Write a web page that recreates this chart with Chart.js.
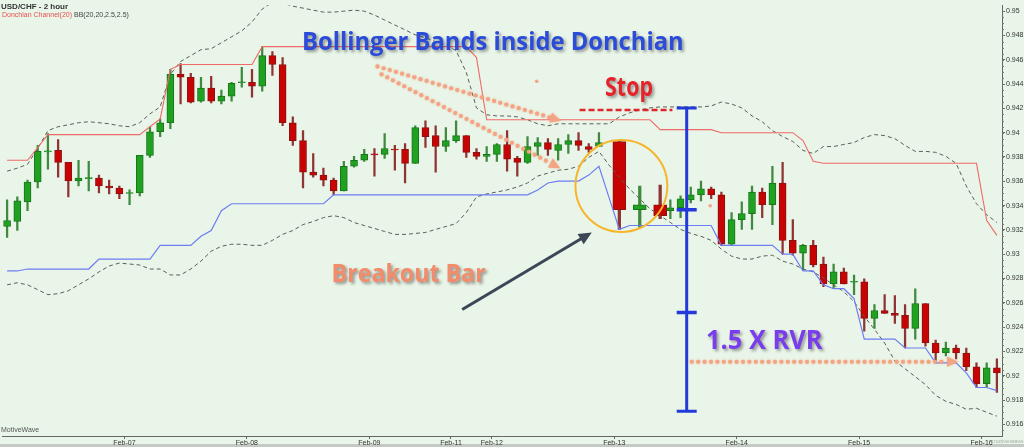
<!DOCTYPE html>
<html>
<head>
<meta charset="utf-8">
<script src="https://cdn.jsdelivr.net/npm/chart.js@4.4.1/dist/chart.umd.min.js"></script>
<style>
    html, body { margin: 0; padding: 0; background: #e9f5e8; }
    #wrap { width: 1024px; height: 447px; }
</style>
</head>
<body>
<div id="wrap"><canvas id="myChart" width="1024" height="447"></canvas></div>
<script>
//! DATA (USD/CHF 2 hour bars)
const opens = [
    0.93228, 0.93269, 0.93431, 0.93594, 0.93842, 0.93854, 0.93756, 0.93602, 0.93622, 0.93626,
    0.93561, 0.93545, 0.93500, 0.93504, 0.93813, 0.94008, 0.94082, 0.94480, 0.94456, 0.94260,
    0.94366, 0.94260, 0.94301, 0.94411, 0.94415, 0.94382, 0.94634, 0.94561, 0.94082, 0.93935,
    0.93675, 0.93651, 0.93610, 0.93521, 0.93724, 0.93773, 0.93825, 0.93821, 0.93866, 0.93862,
    0.93748, 0.94041, 0.93976, 0.93886, 0.93935, 0.93976, 0.93838, 0.93805, 0.93821, 0.93903,
    0.93789, 0.93756, 0.93886, 0.93919, 0.93854, 0.93903, 0.93935, 0.93886, 0.93886, null,
    0.93927, null, 0.93366, null, 0.93407, 0.93358, 0.93382, 0.93447, 0.93488, 0.93537,
    0.93488, 0.93082, 0.93285, 0.93334, 0.93512, 0.93407, 0.93586, 0.93114, 0.93008, 0.93073,
    0.92919, 0.92756, 0.92854, 0.92769, 0.92773, 0.92472, 0.92537, 0.92513, 0.92496, 0.92390,
    0.92594, 0.92269, 0.92187, 0.92228, 0.92187, 0.92073, 0.91935, 0.92065
];
const highs = [
    0.93447, 0.93472, 0.93610, 0.93895, 0.93992, 0.93943, 0.93756, 0.93773, 0.93764, 0.93651,
    0.93610, 0.93561, 0.93529, 0.93813, 0.94049, 0.94114, 0.94521, 0.94569, 0.94488, 0.94456,
    0.94464, 0.94350, 0.94415, 0.94537, 0.94521, 0.94708, 0.94667, 0.94618, 0.94130, 0.94017,
    0.93829, 0.93708, 0.93626, 0.93764, 0.93805, 0.93862, 0.93870, 0.93992, 0.93895, 0.93911,
    0.94057, 0.94098, 0.94057, 0.94041, 0.94098, 0.93976, 0.93870, 0.93886, 0.93911, 0.94017,
    0.93805, 0.93968, 0.93960, 0.93951, 0.93951, 0.93984, 0.94000, 0.93911, 0.94000, null,
    0.93927, null, 0.93561, null, 0.93569, 0.93447, 0.93480, 0.93553, 0.93602, 0.93553,
    0.93512, 0.93342, 0.93431, 0.93561, 0.93545, 0.93724, 0.93756, 0.93285, 0.93082, 0.93114,
    0.92976, 0.92919, 0.92886, 0.92829, 0.92797, 0.92585, 0.92667, 0.92659, 0.92585, 0.92716,
    0.92594, 0.92293, 0.92277, 0.92252, 0.92228, 0.92106, 0.92106, 0.92138
];
const lows = [
    0.93139, 0.93195, 0.93358, 0.93545, 0.93699, 0.93634, 0.93472, 0.93561, 0.93521, 0.93504,
    0.93496, 0.93456, 0.93407, 0.93480, 0.93797, 0.93968, 0.94033, 0.94236, 0.94244, 0.94252,
    0.94244, 0.94236, 0.94260, 0.94374, 0.94293, 0.94342, 0.94472, 0.94057, 0.93895, 0.93545,
    0.93634, 0.93561, 0.93488, 0.93521, 0.93716, 0.93764, 0.93643, 0.93789, 0.93691, 0.93586,
    0.93748, 0.93878, 0.93675, 0.93846, 0.93919, 0.93797, 0.93781, 0.93764, 0.93764, 0.93683,
    0.93643, 0.93748, 0.93813, 0.93813, 0.93773, 0.93829, 0.93854, 0.93838, 0.93886, null,
    0.93204, null, 0.93220, null, 0.93293, 0.93293, 0.93301, 0.93423, 0.93439, 0.93456,
    0.93073, 0.93073, 0.93204, 0.93204, 0.93301, 0.93244, 0.93000, 0.92992, 0.92870, 0.92895,
    0.92732, 0.92716, 0.92756, 0.92667, 0.92366, 0.92390, 0.92513, 0.92431, 0.92228, 0.92301,
    0.92244, 0.92106, 0.92163, 0.92138, 0.92041, 0.91903, 0.91903, 0.91862
];
const closes = [
    0.93277, 0.93439, 0.93594, 0.93846, 0.93850, 0.93756, 0.93602, 0.93626, 0.93630, 0.93561,
    0.93545, 0.93496, 0.93508, 0.93813, 0.94008, 0.94082, 0.94480, 0.94456, 0.94252, 0.94366,
    0.94260, 0.94301, 0.94407, 0.94419, 0.94382, 0.94634, 0.94561, 0.94082, 0.93935, 0.93675,
    0.93651, 0.93610, 0.93521, 0.93724, 0.93773, 0.93821, 0.93817, 0.93870, 0.93858, 0.93748,
    0.94041, 0.93968, 0.93886, 0.93935, 0.93976, 0.93838, 0.93805, 0.93821, 0.93903, 0.93781,
    0.93756, 0.93886, 0.93919, 0.93862, 0.93903, 0.93935, 0.93895, 0.93862, 0.93919, null,
    0.93366, null, 0.93407, null, 0.93317, 0.93382, 0.93456, 0.93488, 0.93537, 0.93488,
    0.93082, 0.93285, 0.93334, 0.93512, 0.93407, 0.93586, 0.93114, 0.93008, 0.93073, 0.92911,
    0.92756, 0.92854, 0.92756, 0.92777, 0.92472, 0.92537, 0.92513, 0.92496, 0.92390, 0.92594,
    0.92269, 0.92187, 0.92228, 0.92187, 0.92073, 0.91935, 0.92065, 0.92024
];
//* bars drawn wide inside the circle
const wideBars = [60, 62, 64];

const donchianUpper = [
    0.93773, 0.93773, 0.93773, 0.93878, 0.93984, 0.93984, 0.93984, 0.93984, 0.93984, 0.93984,
    0.93984, 0.93984, 0.93984, 0.93984, 0.94049, 0.94114, 0.94521, 0.94561, 0.94561, 0.94561,
    0.94561, 0.94561, 0.94561, 0.94561, 0.94561, 0.94708, 0.94708, 0.94708, 0.94708, 0.94708,
    0.94708, 0.94708, 0.94708, 0.94708, 0.94708, 0.94708, 0.94708, 0.94708, 0.94708, 0.94708,
    0.94708, 0.94708, 0.94708, 0.94708, 0.94708, 0.94708, 0.94618, 0.94106, 0.94106, 0.94106,
    0.94106, 0.94106, 0.94106, 0.94106, 0.94106, 0.94106, 0.94106, 0.94106, 0.94106, 0.94106,
    0.94106, 0.94106, 0.94106, 0.94106, 0.94025, 0.94025, 0.94025, 0.94025, 0.94025, 0.94025,
    0.94000, 0.94000, 0.94000, 0.94000, 0.94000, 0.94000, 0.94000, 0.94000, 0.93935, 0.93764,
    0.93748, 0.93748, 0.93748, 0.93748, 0.93748, 0.93748, 0.93748, 0.93748, 0.93748, 0.93748,
    0.93748, 0.93748, 0.93748, 0.93748, 0.93748, 0.93748, 0.93277, 0.93155
];
const donchianLower = [
    0.92862, 0.92862, 0.92878, 0.92878, 0.92878, 0.92878, 0.92878, 0.92878, 0.92878, 0.92960,
    0.92960, 0.92960, 0.92960, 0.92960, 0.92960, 0.93073, 0.93073, 0.93073, 0.93073, 0.93147,
    0.93195, 0.93358, 0.93415, 0.93415, 0.93415, 0.93415, 0.93415, 0.93415, 0.93415, 0.93415,
    0.93415, 0.93415, 0.93488, 0.93488, 0.93488, 0.93488, 0.93488, 0.93488, 0.93488, 0.93488,
    0.93488, 0.93488, 0.93488, 0.93488, 0.93488, 0.93488, 0.93488, 0.93488, 0.93488, 0.93488,
    0.93488, 0.93488, 0.93529, 0.93586, 0.93602, 0.93602, 0.93602, 0.93651, 0.93724, 0.93464,
    0.93204, 0.93236, 0.93236, 0.93236, 0.93236, 0.93236, 0.93236, 0.93236, 0.93236, 0.93236,
    0.93073, 0.93073, 0.93073, 0.93073, 0.93073, 0.93073, 0.93000, 0.93000, 0.92862, 0.92862,
    0.92748, 0.92716, 0.92716, 0.92634, 0.92301, 0.92301, 0.92301, 0.92301, 0.92228, 0.92228,
    0.92228, 0.92106, 0.92106, 0.92106, 0.92024, 0.91903, 0.91903, 0.91878
];
const bbUpper = [
    0.93683, 0.93708, 0.93740, 0.93870, 0.94017, 0.94049, 0.94065, 0.94082, 0.94090, 0.94082,
    0.94073, 0.94057, 0.94049, 0.94082, 0.94155, 0.94212, 0.94480, 0.94586, 0.94634, 0.94683,
    0.94691, 0.94740, 0.94789, 0.94838, 0.94911, 0.95017, 0.95073, 0.95065, 0.95041, 0.95025,
    0.95008, 0.94992, 0.94992, 0.95000, 0.95008, 0.95000, 0.94968, 0.94927, 0.94886, 0.94846,
    0.94805, 0.94781, 0.94748, 0.94724, 0.94675, 0.94496, 0.94204, 0.94147, 0.94138, 0.94138,
    0.94130, 0.94106, 0.94073, 0.94057, 0.94073, 0.94073, 0.94073, 0.94073, 0.94073, 0.94073,
    0.94130, 0.94163, 0.94187, 0.94204, 0.94212, 0.94212, 0.94212, 0.94212, 0.94212, 0.94220,
    0.94252, 0.94236, 0.94204, 0.94138, 0.94090, 0.94017, 0.93968, 0.93927, 0.93854, 0.93829,
    0.93886, 0.93886, 0.93903, 0.93919, 0.93960, 0.93984, 0.93976, 0.93951, 0.93895, 0.93846,
    0.93846, 0.93838, 0.93805, 0.93748, 0.93561, 0.93415, 0.93325, 0.93261
];
const bbLower = [
    0.92748, 0.92765, 0.92748, 0.92708, 0.92667, 0.92675, 0.92699, 0.92748, 0.92797, 0.92854,
    0.92903, 0.92927, 0.92919, 0.92911, 0.92878, 0.92878, 0.92829, 0.92829, 0.92878, 0.92943,
    0.93025, 0.93065, 0.93082, 0.93082, 0.93073, 0.93073, 0.93114, 0.93163, 0.93195, 0.93244,
    0.93269, 0.93301, 0.93317, 0.93301, 0.93261, 0.93236, 0.93212, 0.93187, 0.93163, 0.93163,
    0.93171, 0.93179, 0.93204, 0.93228, 0.93252, 0.93342, 0.93472, 0.93496, 0.93512, 0.93529,
    0.93553, 0.93586, 0.93643, 0.93667, 0.93691, 0.93699, 0.93724, 0.93797, 0.93846, 0.93732,
    0.93634, 0.93537, 0.93456, 0.93374, 0.93317, 0.93261, 0.93204, 0.93171, 0.93147, 0.93114,
    0.93041, 0.92984, 0.92960, 0.92960, 0.92984, 0.92992, 0.92943, 0.92919, 0.92878, 0.92854,
    0.92805, 0.92748, 0.92691, 0.92610, 0.92488, 0.92382, 0.92269, 0.92122, 0.92057, 0.91992,
    0.91927, 0.91838, 0.91789, 0.91764, 0.91724, 0.91732, 0.91699, 0.91667
];

//* axis ticks
const dayTickPos = [11.5, 23.5, 35.5, 43.5, 47.5, 59.5, 71.5, 83.5, 95.5];
const dayTickLabels = ['Feb-07', 'Feb-08', 'Feb-09', 'Feb-11', 'Feb-12', 'Feb-13', 'Feb-14', 'Feb-15', 'Feb-16'];
const priceTicks = [0.916, 0.918, 0.92, 0.922, 0.924, 0.926, 0.928, 0.93, 0.932, 0.934,
    0.936, 0.938, 0.94, 0.942, 0.944, 0.946, 0.948, 0.95];
const minorStep = 0.0005;
const priceMin = 0.91504;
const priceMax = 0.95049;

//! BUILD CANDLE DATASETS
const barLabels = opens.map((o, i) => 'bar ' + i);
const isUp = opens.map((o, i) => closes[i] >= o);
const normal = i => opens[i] !== null && !wideBars.includes(i);
const wide = i => wideBars.includes(i);

const GREEN = '#21a121', GREEN_EDGE = '#17761a', GREEN_WICK = '#3f8a3f';
const RED = '#c70303', RED_EDGE = '#8e1111', RED_WICK = '#8e3434';

function bodyData(test) {
    return opens.map((o, i) => test(i) ? [o, closes[i]] : null);
}
function wickData(test) {
    return opens.map((o, i) => test(i) ? [lows[i], highs[i]] : null);
}
const fill = isUp.map(u => u ? GREEN : RED);
const edge = isUp.map(u => u ? GREEN_EDGE : RED_EDGE);
const wickCol = isUp.map(u => u ? GREEN_WICK : RED_WICK);

const data = {
    labels: barLabels,
    datasets: [
        { type: 'line', label: 'Donchian upper', data: donchianUpper, borderColor: '#f06a68', borderWidth: 1.1, pointRadius: 0, order: 0 },
        { type: 'line', label: 'Donchian lower', data: donchianLower, borderColor: '#6c7df4', borderWidth: 1.2, pointRadius: 0, order: 0 },
        { type: 'line', label: 'BB upper', data: bbUpper, borderColor: '#5a5f5a', borderWidth: 1, borderDash: [4, 3], pointRadius: 0, order: 0 },
        { type: 'line', label: 'BB lower', data: bbLower, borderColor: '#5a5f5a', borderWidth: 1, borderDash: [4, 3], pointRadius: 0, order: 0 },
        { type: 'bar', label: 'body', data: bodyData(normal), backgroundColor: fill, borderColor: edge, borderWidth: 1, borderSkipped: false, barThickness: 7, grouped: false, order: 1 },
        { type: 'bar', label: 'wide body', data: bodyData(wide), backgroundColor: fill, borderColor: edge, borderWidth: 1, borderSkipped: false, barThickness: 13, grouped: false, order: 1 },
        { type: 'bar', label: 'wick', data: wickData(normal), backgroundColor: wickCol, barThickness: 1.6, grouped: false, order: 2 },
        { type: 'bar', label: 'wide wick', data: wickData(wide), backgroundColor: wickCol, barThickness: 2.6, grouped: false, order: 2 }
    ]
};

//! ANNOTATIONS (bar index / price)
const notes = {
    headline: { text: 'Bollinger Bands inside Donchian', k1: 28.9, k2: 66.3, p: 0.94683, size: 25, color: '#2b4bd9' },
    stop: { text: 'Stop', k1: 58.6, k2: 63.3, p: 0.94304, size: 26, color: '#e5232b' },
    breakout: { text: 'Breakout Bar', k1: 31.8, k2: 46.9, p: 0.92773, size: 25, color: '#f28c6a' },
    rvr: { text: '1.5 X RVR', k1: 68.5, k2: 79.9, p: 0.92220, size: 26, color: '#7a3ded' }
};
const stopLine = { k1: 56.1, k2: 65.2, p: 0.94187 };
const ruler = { k: 66.6, top: 0.94204, bottom: 0.91708, marks: [0.93366, 0.92521] };
const circle = { k: 60.2, p: 0.93561, rk: 4.5 };
const darkArrow = { k1: 44.6, p1: 0.92545, k2: 57.3, p2: 0.93179 };
const dotArrows = [
    { k1: 36.3, p1: 0.94545, k2: 54.3, p2: 0.94098 },
    { k1: 36.7, p1: 0.94480, k2: 54.2, p2: 0.93708 },
    { k1: 67.1, p1: 0.92114, k2: 93.2, p2: 0.92114 }
];
const strayDots = [{ k: 51.9, p: 0.94423 }, { k: 68.9, p: 0.93399 }];

function fitText(ctx, text, x1, x2, y, size, color) {
    ctx.save();
    ctx.font = 'bold ' + size + 'px "Open Sans", "DejaVu Sans", sans-serif';
    const w = ctx.measureText(text).width;
    ctx.translate(x1, y);
    ctx.scale((x2 - x1) / w, 1);
    ctx.shadowColor = 'rgba(40,40,40,0.45)';
    ctx.shadowBlur = 3;
    ctx.shadowOffsetX = 2;
    ctx.shadowOffsetY = 2;
    ctx.fillStyle = color;
    ctx.textBaseline = 'alphabetic';
    ctx.fillText(text, 0, 0);
    ctx.restore();
}

function dottedArrow(ctx, x1, y1, x2, y2) {
    const len = Math.hypot(x2 - x1, y2 - y1);
    const ux = (x2 - x1) / len, uy = (y2 - y1) / len;
    const head = 11;
    ctx.save();
    ctx.fillStyle = '#f4a383';
    ctx.shadowColor = 'rgba(240,130,90,0.6)';
    ctx.shadowBlur = 2;
    for (let d = 0; d <= len - head; d += 6.4) {
        ctx.beginPath();
        ctx.arc(x1 + ux * d, y1 + uy * d, 2.1, 0, Math.PI * 2);
        ctx.fill();
    }
    ctx.beginPath();
    ctx.moveTo(x2, y2);
    ctx.lineTo(x2 - ux * head - uy * 5, y2 - uy * head + ux * 5);
    ctx.lineTo(x2 - ux * head + uy * 5, y2 - uy * head - ux * 5);
    ctx.closePath();
    ctx.fill();
    ctx.restore();
}

const decorations = {
    id: 'decorations',
    beforeDraw(chart) {
        const ctx = chart.ctx;
        ctx.save();
        ctx.fillStyle = '#e9f5e8';
        ctx.fillRect(0, 0, chart.width, chart.height);
        ctx.fillStyle = '#c4c9c4';
        ctx.fillRect(0, chart.height - 3, chart.width, 3);
        ctx.restore();
    },
    afterDraw(chart) {
        const ctx = chart.ctx;
        const xs = chart.scales.xt, ys = chart.scales.y;
        const X = k => xs.getPixelForValue(k);
        const Y = p => ys.getPixelForValue(p);
        const area = chart.chartArea;

        //* minor ticks on the price axis
        ctx.save();
        ctx.strokeStyle = '#777';
        ctx.lineWidth = 1;
        ctx.beginPath();
        for (let p = priceTicks[0] - 0.002; p < priceMax; p += minorStep) {
            const y = Math.round(Y(p)) + 0.5;
            if (y < area.top || y > area.bottom) continue;
            ctx.moveTo(area.right, y);
            ctx.lineTo(area.right + 2, y);
        }
        ctx.stroke();
        ctx.restore();

        //* header texts
        ctx.save();
        ctx.textBaseline = 'alphabetic';
        ctx.fillStyle = '#333';
        ctx.font = 'bold 8px "Liberation Sans", Arial, sans-serif';
        ctx.fillText('USD/CHF - 2 hour', 1, 9);
        ctx.font = '7px "Liberation Sans", Arial, sans-serif';
        ctx.fillStyle = '#e8504c';
        ctx.fillText('Donchian Channel(20)', 2, 17);
        const w = ctx.measureText('Donchian Channel(20) ').width;
        ctx.fillStyle = '#444';
        ctx.fillText('BB(20,20,2.5,2.5)', 2 + w, 17);
        ctx.fillStyle = '#555';
        ctx.fillText('MotiveWave', 1, 432);
        ctx.fillStyle = '#a9aea9';
        ctx.font = '6px "Liberation Sans", Arial, sans-serif';
        ctx.fillText('motivewave.com', area.right - 10, 443);
        ctx.restore();

        //* dotted salmon arrows
        dotArrows.forEach(a => dottedArrow(ctx, X(a.k1), Y(a.p1), X(a.k2), Y(a.p2)));
        ctx.save();
        ctx.fillStyle = '#f4a383';
        strayDots.forEach(d => { ctx.beginPath(); ctx.arc(X(d.k), Y(d.p), 1.8, 0, Math.PI * 2); ctx.fill(); });
        ctx.restore();

        //* stop dashed line
        ctx.save();
        ctx.strokeStyle = '#e0262c';
        ctx.lineWidth = 2.5;
        ctx.setLineDash([6, 3]);
        ctx.beginPath();
        ctx.moveTo(X(stopLine.k1), Y(stopLine.p));
        ctx.lineTo(X(stopLine.k2), Y(stopLine.p));
        ctx.stroke();
        ctx.restore();

        //* breakout circle
        ctx.save();
        ctx.strokeStyle = '#f7b52c';
        ctx.lineWidth = 2;
        ctx.beginPath();
        ctx.arc(X(circle.k), Y(circle.p), X(circle.k + circle.rk) - X(circle.k), 0, Math.PI * 2);
        ctx.stroke();
        ctx.restore();

        //* dark arrow
        ctx.save();
        const ax1 = X(darkArrow.k1), ay1 = Y(darkArrow.p1), ax2 = X(darkArrow.k2), ay2 = Y(darkArrow.p2);
        const al = Math.hypot(ax2 - ax1, ay2 - ay1), ux = (ax2 - ax1) / al, uy = (ay2 - ay1) / al;
        ctx.strokeStyle = '#3b4756';
        ctx.fillStyle = '#3b4756';
        ctx.lineWidth = 3;
        ctx.beginPath();
        ctx.moveTo(ax1, ay1);
        ctx.lineTo(ax2 - ux * 10, ay2 - uy * 10);
        ctx.stroke();
        ctx.beginPath();
        ctx.moveTo(ax2, ay2);
        ctx.lineTo(ax2 - ux * 13 - uy * 6, ay2 - uy * 13 + ux * 6);
        ctx.lineTo(ax2 - ux * 13 + uy * 6, ay2 - uy * 13 - ux * 6);
        ctx.closePath();
        ctx.fill();
        ctx.restore();

        //* blue ruler
        ctx.save();
        ctx.strokeStyle = '#2339d9';
        ctx.lineWidth = 3;
        const rx = X(ruler.k);
        ctx.beginPath();
        ctx.moveTo(rx, Y(ruler.top));
        ctx.lineTo(rx, Y(ruler.bottom));
        [ruler.top, ruler.bottom].forEach(p => { ctx.moveTo(rx - 10, Y(p)); ctx.lineTo(rx + 10, Y(p)); });
        ctx.stroke();
        ctx.lineWidth = 3.5;
        ctx.beginPath();
        ruler.marks.forEach(p => { ctx.moveTo(rx - 10, Y(p)); ctx.lineTo(rx + 10, Y(p)); });
        ctx.stroke();
        ctx.restore();

        //* big texts
        Object.values(notes).forEach(n => fitText(ctx, n.text, X(n.k1), X(n.k2), Y(n.p), n.size, n.color));
    }
};

//! CONFIG
const tickFont = { family: '"Liberation Sans", Arial, sans-serif', size: 7 };
const config = {
    data,
    options: {
        responsive: false,
        animation: false,
        devicePixelRatio: 1,
        layout: { padding: { left: 2, top: 0, right: 0, bottom: 0 } },
        plugins: { legend: { display: false }, tooltip: { enabled: false } },
        scales: {
            x: { type: 'category', display: false, offset: true },
            xt: {
                type: 'linear', position: 'bottom', min: -0.5, max: 97.5,
                afterBuildTicks: s => { s.ticks = dayTickPos.map(v => ({ value: v })); },
                afterFit: s => { s.height = 11; },
                ticks: {
                    callback: v => dayTickLabels[dayTickPos.indexOf(v)],
                    font: tickFont, color: '#333', padding: 0,
                    maxRotation: 0, minRotation: 0, autoSkip: false
                },
                grid: { drawOnChartArea: false, tickLength: 3, color: '#666' },
                border: { color: '#666' }
            },
            y: {
                position: 'right', min: priceMin, max: priceMax,
                afterBuildTicks: s => { s.ticks = priceTicks.map(v => ({ value: v })); },
                afterFit: s => { s.width = 22; },
                ticks: {
                    callback: v => String(+v.toFixed(3)),
                    font: tickFont, color: '#333', padding: 1, autoSkip: false
                },
                grid: { drawOnChartArea: false, tickLength: 3, color: '#666' },
                border: { color: '#666' }
            }
        }
    },
    plugins: [decorations]
};

//! CREATE CHART
const myChart = new Chart(document.getElementById('myChart'), config);
</script>
</body>
</html>
